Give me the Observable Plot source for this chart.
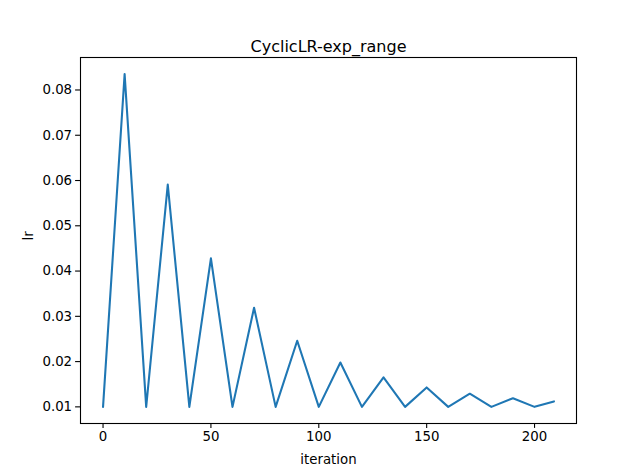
<!DOCTYPE html>
<html>
<head>
<meta charset="utf-8">
<script src="https://cdn.jsdelivr.net/npm/d3@7"></script>
<script src="https://cdn.jsdelivr.net/npm/@observablehq/plot@0.6"></script>
<style>
  body { margin: 0; background: #fff; }
  svg { font-family: "DejaVu Sans", sans-serif; }
</style>
</head>
<body>
<div id="chart"></div>
<script>
// Vertices of the learning-rate curve
const iterations = [0, 10, 20, 30, 40, 50, 60, 70, 80, 90, 100, 110, 120, 130, 140, 150, 160, 170, 180, 190, 200, 209];
const lrValues = [0.0100, 0.0835, 0.0100, 0.0591, 0.0100, 0.0428, 0.0100, 0.0319, 0.0100, 0.0246, 0.0100, 0.0198, 0.0100, 0.0165, 0.0100, 0.0143, 0.0100, 0.0129, 0.0100, 0.0119, 0.0100, 0.0112];
const xTicks = [0, 50, 100, 150, 200];
const yTicks = [0.01, 0.02, 0.03, 0.04, 0.05, 0.06, 0.07, 0.08];
const titleText = "CyclicLR-exp_range";
const xLabel = "iteration";
const yLabel = "lr";

const data = iterations.map((it, i) => ({iteration: it, lr: lrValues[i]}));

const chart = Plot.plot({
  width: 640,
  height: 476,
  marginLeft: 80,
  marginRight: 64,
  marginTop: 57,
  marginBottom: 53,
  style: {fontFamily: "DejaVu Sans, sans-serif", fontSize: "13.33px", background: "#fff", color: "#000"},
  x: {domain: [-10.45, 219.45], label: null},
  y: {domain: [0.006325, 0.087175], label: null},
  marks: [
    Plot.line(data, {x: "iteration", y: "lr", stroke: "#1f77b4", strokeWidth: 2.08}),
    Plot.frame({stroke: "#000", strokeWidth: 1.1}),
    Plot.axisX({ticks: xTicks, tickFormat: d3.format("d"), tickSize: 4.9, tickPadding: 3.5, label: null, fontSize: "13.33px", stroke: "#000", strokeWidth: 1.1}),
    Plot.axisY({ticks: yTicks, tickFormat: d3.format(".2f"), tickSize: 4.9, tickPadding: 3.5, label: null, fontSize: "13.33px", stroke: "#000", strokeWidth: 1.1}),
    Plot.text([titleText], {frameAnchor: "top", lineAnchor: "bottom", dy: -6, fontSize: 16, fill: "#000"}),
    Plot.text([xLabel], {frameAnchor: "bottom", lineAnchor: "top", dy: 31, fontSize: 13.33, fill: "#000"}),
    Plot.text([yLabel], {frameAnchor: "left", lineAnchor: "middle", dx: -52, rotate: -90, fontSize: 13.33, fill: "#000"})
  ]
});
document.getElementById("chart").append(chart);
</script>
</body>
</html>
